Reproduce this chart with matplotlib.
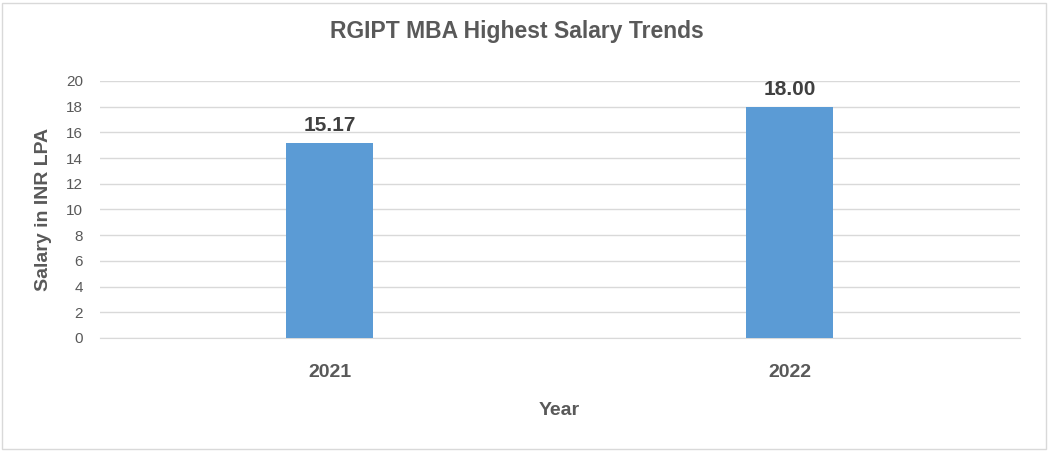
import matplotlib
matplotlib.use("Agg")
import matplotlib.pyplot as plt
from matplotlib.patches import Rectangle

years = ["2021", "2022"]
salary = [15.17, 18.00]
yticks = [0, 2, 4, 6, 8, 10, 12, 14, 16, 18, 20]

plt.rcParams['font.family'] = ['Liberation Sans', 'DejaVu Sans']
tc = "#595959"
fig = plt.figure(figsize=(10.48, 4.51), dpi=100)
fig.patches.append(Rectangle((0.002, 0.004), 0.996, 0.99, transform=fig.transFigure,
                             fill=False, edgecolor="#d9d9d9", linewidth=1))
ax = fig.add_axes([0.095, 0.2506, 0.878, 0.5698])
x = range(len(years))
ax.bar(x, salary, width=0.19, color="#5b9bd5", zorder=3)
for xi, v in zip(x, salary):
    ax.text(xi, v + 0.6, f"{v:.2f}", ha="center", va="bottom", fontsize=15,
            fontweight="bold", color="#404040")
ax.set_xlim(-0.5, 1.5)
ax.set_ylim(0, 20)
ax.set_yticks(yticks)
ax.set_yticklabels([str(t) for t in yticks], fontsize=11, color=tc)
ax.set_xticks(list(x))
ax.set_xticklabels(years, fontsize=14, fontweight="bold", color=tc)
ax.grid(axis="y", color="#d9d9d9", linewidth=1, zorder=0)
for s in ["top", "right", "left"]:
    ax.spines[s].set_visible(False)
ax.spines["bottom"].set_color("#d9d9d9")
ax.tick_params(length=0)
ax.tick_params(axis="x", pad=19)
ax.tick_params(axis="y", pad=12)
ax.set_xlabel("Year", fontsize=14, fontweight="bold", color=tc, labelpad=15)
ax.set_ylabel("Salary in INR LPA", fontsize=14, fontweight="bold", color=tc, labelpad=10)
fig.text(0.493, 0.93, "RGIPT MBA Highest Salary Trends", ha="center", va="center",
         fontsize=16.5, fontweight="bold", color=tc)
fig.savefig("out.png", dpi=100)
